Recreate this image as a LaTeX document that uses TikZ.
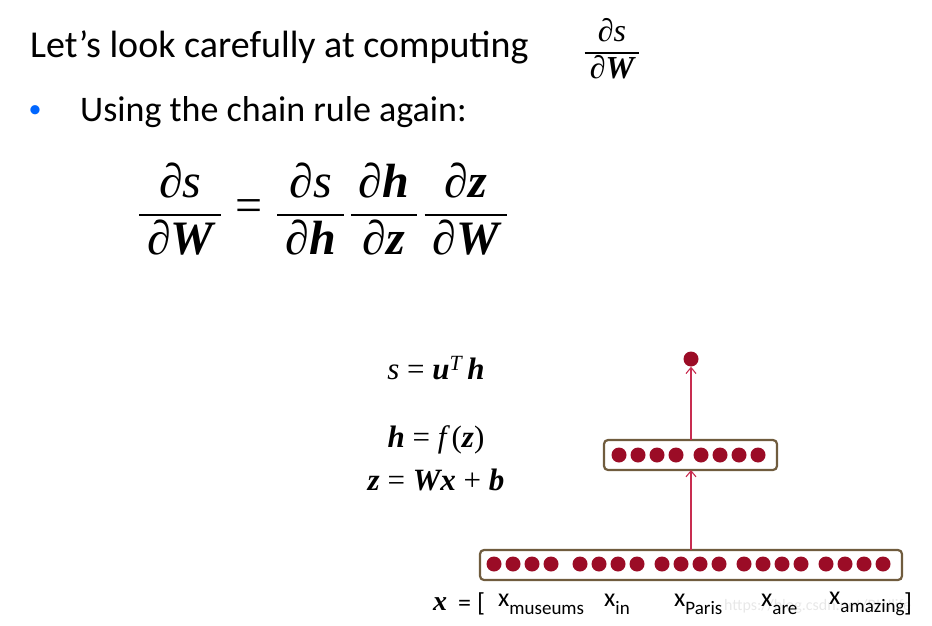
\documentclass[tikz,border=0pt]{standalone}
\usepackage{fontspec}
\setmainfont{Carlito}
\newfontfamily\mf{Liberation Serif}
\usetikzlibrary{arrows.meta}
\definecolor{dotc}{RGB}{155,12,38}
\definecolor{boxc}{RGB}{112,92,62}
\definecolor{arrc}{RGB}{200,45,80}
\newcommand{\bi}[1]{{\bfseries\itshape #1}}
\newcommand{\iv}[1]{{\itshape #1}}
\newcommand{\myfr}[2]{\setlength{\arrayrulewidth}{0.05em}\renewcommand{\arraystretch}{1.05}\begin{tabular}{@{\,}c@{\,}}#1\\\hline #2\end{tabular}}
\newcommand{\xsub}[1]{x\raisebox{-0.3em}{\fontsize{19}{20}\selectfont #1}}
\tikzset{
  dotn/.style={circle,fill=dotc,inner sep=0pt,minimum size=15pt},
  layer/.style={draw=boxc,line width=2.2pt,rounded corners=4pt,fill=white,inner sep=0pt},
  conn/.style={draw=arrc,line width=1.1pt,-{Straight Barb[length=6pt,width=10pt]}},
  txt/.style={inner sep=0pt,anchor=west}
}
\begin{document}
\begin{tikzpicture}[x=1pt,y=-1pt]
\useasboundingbox (0,0) rectangle (932,626);
\node[txt] (title) at (30,47) {\fontsize{38}{42}\selectfont Let’s look carefully at computing};
\node[inner sep=0pt] (tfrac) at (612,53) {\fontsize{32}{34}\selectfont\mf \myfr{∂\iv{s}}{∂\bi{W}}};
\node[inner sep=0pt,text=blue!60!cyan] (bul) at (35,112) {\fontsize{26}{26}\selectfont •};
\node[txt] (sub) at (80,112) {\fontsize{36}{40}\selectfont Using the chain rule again:};
\node[inner sep=0pt] (chain) at (323,215) {\fontsize{48}{52}\selectfont\mf \myfr{∂\iv{s}}{∂\bi{W}}\hspace{0.3em}=\hspace{0.3em}\myfr{∂\iv{s}}{∂\bi{h}}\hspace{0.15em}\myfr{∂\bi{h}}{∂\bi{z}}\hspace{0.15em}\myfr{∂\bi{z}}{∂\bi{W}}};
\node[inner sep=0pt] (e1) at (436,368) {\fontsize{31}{34}\selectfont\mf \iv{s} = \bi{u}\textsuperscript{\itshape T}\,\bi{h}};
\node[inner sep=0pt] (e2) at (436,440) {\fontsize{31}{34}\selectfont\mf \bi{h} = \iv{f}\,(\bi{z})};
\node[inner sep=0pt] (e3) at (436,480) {\fontsize{31}{34}\selectfont\mf \bi{z} = \bi{Wx} + \bi{b}};
% layers
\node[layer,minimum width=422pt,minimum height=30pt] (L1) at (691,565) {};
\node[layer,minimum width=173pt,minimum height=30pt] (L2) at (690.5,455) {};
\foreach \x in {494,513,532,551,580,599,618,637,662,681,700,719,744,763,782,801,826,845,864,883}
  \node[dotn] at (\x,564) {};
\foreach \x in {619,638,657,676,701,720,739,758}
  \node[dotn] at (\x,455) {};
\node[dotn] (top) at (691,359) {};
\coordinate (b1) at (691,550);
\coordinate (b2) at (691,470);
\coordinate (b3) at (691,440);
\draw[conn] (b1) -- (b2);
\draw[conn] (b3) -- (top);
% labels
\node[txt,text=gray!18] (wm) at (724,606) {\fontsize{16}{18}\selectfont https://blog.csdn.net/RHJlife};
\node[inner sep=0pt] (xv) at (440,604) {\fontsize{28}{30}\selectfont\mf\bi{x}};
\node[txt] (eq) at (458,604) {\fontsize{26}{28}\selectfont = [};
\node[txt] (x1) at (498,604) {\fontsize{26}{28}\selectfont \xsub{museums}};
\node[txt] (x2) at (604,604) {\fontsize{26}{28}\selectfont \xsub{in}};
\node[txt] (x3) at (674,604) {\fontsize{26}{28}\selectfont \xsub{Paris}};
\node[txt] (x4) at (761,604) {\fontsize{26}{28}\selectfont \xsub{are}};
\node[txt] (x5) at (829,604) {\fontsize{26}{28}\selectfont \xsub{amazing}};
\node[txt] (br) at (904,604) {\fontsize{26}{28}\selectfont ]};
\end{tikzpicture}
\end{document}
